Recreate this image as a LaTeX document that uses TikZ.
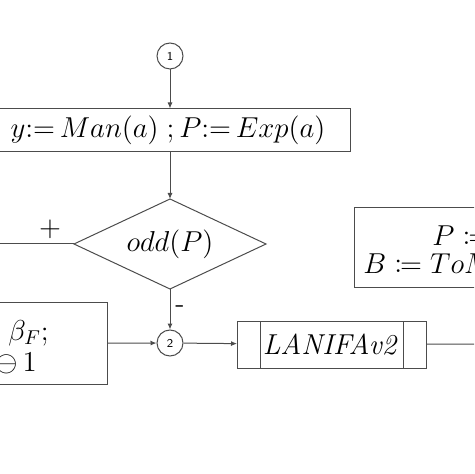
\documentclass[tikz,border=0pt]{standalone}
\usepackage{mathtools}
\usetikzlibrary{shapes.geometric,arrows.meta}
\tikzset{
  box/.style={draw=black!70, line width=0.5pt, inner sep=0pt, outer sep=0pt},
  conn/.style={circle, draw=black!70, line width=0.5pt, minimum size=13pt, inner sep=0pt, font=\sffamily\fontsize{6}{7}\selectfont},
  flow/.style={draw=black!70, line width=0.5pt, -{Latex[length=3pt,width=2.5pt]}},
  big/.style={font=\fontsize{14}{17}\selectfont}
}
\begin{document}
\begin{tikzpicture}[x=0.5pt, y=-0.5pt]
    \useasboundingbox (0,0) rectangle (474,474);
    \clip (0,0) rectangle (474,474);
    \node [conn] (c1) at (170,56) {1};
    \node [box, minimum width=186pt, minimum height=21.5pt] (init) at (164,130) {};
    \node [big] (inittxt) at (168,130) {$y{:}{=}\,Man(a)\;;P{:}{=}\,Exp(a)$};
    \node [box, big, diamond, aspect=2.13, minimum width=96pt, minimum height=45pt] (odd) at (170,244) {$odd(P)$};
    \node [conn] (c2) at (170,343) {2};
    \node [box, minimum width=74pt, minimum height=40.5pt] (upd) at (33,343.5) {};
    \node [big, anchor=base west, inner sep=0pt] (beta) at (8,340) {$\beta_F;$};
    \node [big, anchor=base east, inner sep=0pt] (dec) at (37,371) {$\ominus\,1$};
    \node [box, big, minimum width=94.5pt, minimum height=23.5pt] (lan) at (331.5,344.5) {$\mathit{LANIFAv2}$};
    \draw [box] ([xshift=11.5pt]lan.north west) -- ([xshift=11.5pt]lan.south west);
    \draw [box] ([xshift=-11.5pt]lan.north east) -- ([xshift=-11.5pt]lan.south east);
    \node [box, minimum width=80pt, minimum height=40pt] (conv) at (434,248) {};
    \node [big, anchor=base west, inner sep=0pt] (pset) at (432,246) {$P \coloneqq$};
    \node [big, anchor=base west, inner sep=0pt] (bset) at (363,274) {$B \coloneqq ToM$};
    \coordinate (plus) at (-10,244);
    \coordinate (out) at (490,344);
    \node [big] (sgnp) at (50,229) {$+$};
    \node [big] (sgnm) at (180,309) {-};
    \draw [flow] (c1) -- (c1 |- init.north);
    \draw [flow] (c1 |- init.south) -- (odd);
    \draw [box] (odd) -- (plus);
    \draw [flow] (odd) -- (c2);
    \draw [flow] (upd) -- (c2);
    \draw [flow] (c2) -- (lan);
    \draw [box] (lan) -- (out);
\end{tikzpicture}
\end{document}
